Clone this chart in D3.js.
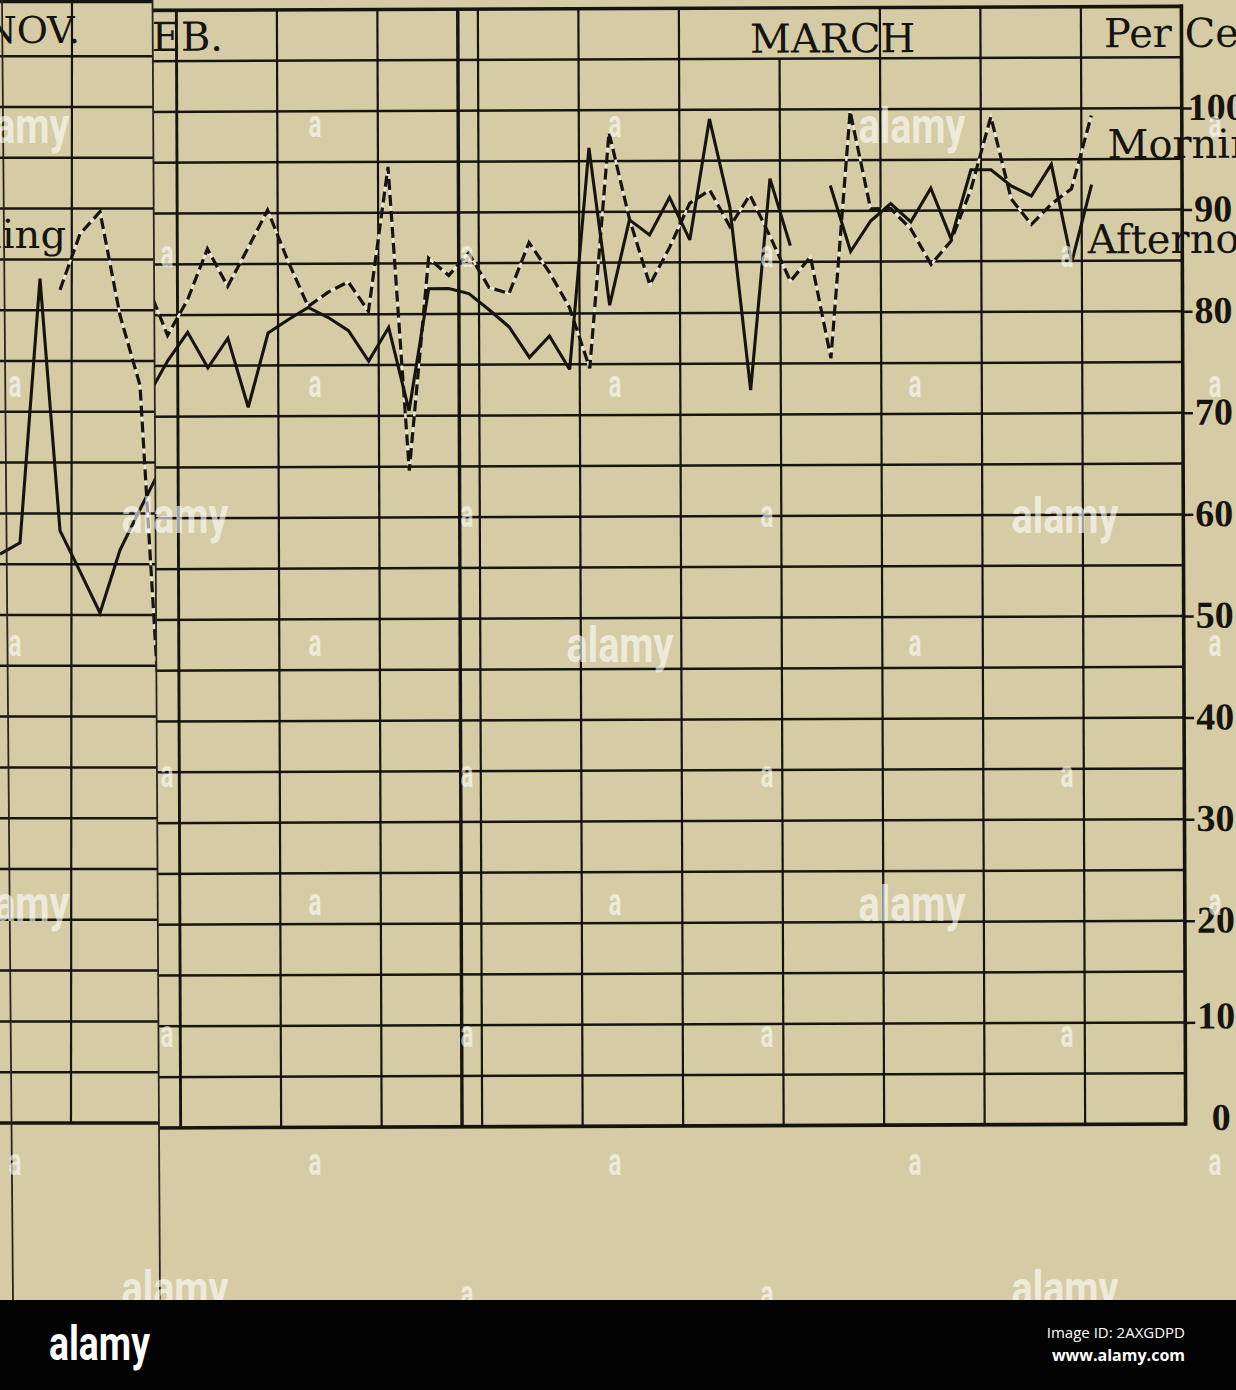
<!DOCTYPE html>
<html><head><meta charset="utf-8">
<script src="https://cdn.jsdelivr.net/npm/d3@7"></script>
<style>html,body{margin:0;padding:0;background:#d5cca6;}svg{display:block}</style>
</head><body>
<svg id="c" width="1236" height="1390"></svg>
<script>
// ---------- DATA ----------
const percentTicks = [0, 10, 20, 30, 40, 50, 60, 70, 80, 90, 100];
const gridValues = [0,5,10,15,20,25,30,35,40,45,50,55,60,65,70,75,80,85,90,95,100,105];
const gridDays = [15,20,25,30,35,40,45,50,55,60];
const monthStartDay = 29;           // heavy line: start of March
const headerLabels = {nov: "NOV.", feb: "FEB.", march: "MARCH", unit: "Per Cent."};
const seriesLabels = {morning: "Morning", afternoon: "Afternoon"};

// November strip (one reading per day)
const novIndex      = [0, 1, 2, 3, 4, 5, 6, 7, 8];
const novAfternoon  = [56, 57.1, 83.1, 58.3, 54.3, 50.2, 56.4, 60.4, 64.3];
const novMorning    = [null, null, null, 82.0, 87.5, 89.7, 79.5, 72.6, 39.7];

// February – March sheet (day index, Feb 15 = 15, Mar 1 = 29)
const febMarDay = [13,14,15,16,17,18,19,20,21,22,23,24,25,26,27,28,29,30,31,32,33,34,35,36,
                   37,38,39,40,41,42,43,44,45,46,47,48,49,50,51,52,53,54,55,56,57,58,59,60];
const afternoon = [72, 75.5, 78.3, 74.8, 77.7, 70.9, 78.2, 79.5, 80.7, 79.7, 78.4, 75.4, 78.7, 70.5,
                   82.5, 82.5, 82.0, 80.4, 78.7, 75.7, 77.8, 74.5, 96.3, 80.8, 89.2, 87.7, 91.4, 87.2,
                   99.1, 90.4, 72.4, 93.2, 86.6, null, 92.5, 86.0, 89.0, 90.7, 88.9, 92.2, 87.2, 94.0,
                   94.0, 92.4, 91.4, 94.5, 84.9, 92.5];
const morning   = [83, 78.0, 81.5, 86.5, 82.8, 86.5, 90.3, 85.3, 80.8, 82.2, 83.2, 80.3, 94.5, 64.6,
                   85.5, 83.8, 86.0, 82.6, 82.0, 87.0, 84.1, 80.6, 74.6, 97.8, 89.3, 82.8, 86.5, 90.8,
                   92.1, 88.5, 91.6, 87.5, 83.1, 85.5, 75.5, 99.8, 90.2, 90.2, 88.2, 84.7, 87.0, 92.1,
                   99.2, 91.1, 88.6, 90.6, 92.1, 99.3];

// ---------- DRAW ----------
const W = 1236, H = 1390;
const paper = '#d5cca6', ink = '#17140f';
const serif = '"DejaVu Serif", serif';
const svg = d3.select('#c');
svg.append('rect').attr('width', W).attr('height', H).attr('fill', paper);

const y = d3.scaleLinear().domain([0, 110]).range([1124, 6.4]);
const x = d3.scaleLinear().domain([15, 65]).range([178.5, 1183.5]);
const dayX = d => x(d + 0.5);
const gridW = 2.5, vW = 2.2;

// ---- Feb/March sheet ----
const right = svg.append('g').attr('transform', 'rotate(-0.22 1183 565)');

right.selectAll('line.h').data(gridValues).join('line')
  .attr('x1', 148).attr('x2', x(65)).attr('y1', d => y(d)).attr('y2', d => y(d))
  .attr('stroke', ink).attr('stroke-width', d => d === 0 ? 3.6 : gridW);
right.append('line').attr('x1', 148).attr('x2', x(65) + 1.8)
  .attr('y1', y(110)).attr('y2', y(110)).attr('stroke', ink).attr('stroke-width', 3.6);

right.selectAll('line.v').data(gridDays).join('line')
  .attr('x1', d => x(d)).attr('x2', d => x(d))
  .attr('y1', d => d === 45 ? y(105) : y(110)).attr('y2', y(0))
  .attr('stroke', ink).attr('stroke-width', d => d === 15 ? 2.9 : vW);
right.append('line').attr('x1', x(monthStartDay)).attr('x2', x(monthStartDay))
  .attr('y1', y(110)).attr('y2', y(0)).attr('stroke', ink).attr('stroke-width', 3.4);
right.append('line').attr('x1', x(65)).attr('x2', x(65))
  .attr('y1', y(110) - 1.8).attr('y2', y(0) + 1.8).attr('stroke', ink).attr('stroke-width', 3.6);

// axis on the right
const axis = d3.axisRight(y).tickValues(percentTicks).tickSize(10).tickPadding(2);
const ag = right.append('g').attr('transform', `translate(${x(65)},0)`).call(axis);
ag.select('.domain').remove();
ag.selectAll('.tick line').attr('stroke', ink).attr('stroke-width', gridW)
  .attr('opacity', d => d === 0 ? 0 : 1);
ag.selectAll('.tick text')
  .attr('font-family', '"Liberation Serif", serif').attr('font-weight', 'bold')
  .attr('font-size', 38).attr('fill', ink)
  .attr('x', d => d === 0 ? 26 : d === 100 ? 6 : 12)
  .attr('dy', d => d <= 10 ? '0.15em' : '0.3em');

// header texts
const txt = (g, s, xx, yy, anchor) => g.append('text').text(s).attr('x', xx).attr('y', yy)
  .attr('text-anchor', anchor || 'start').attr('font-family', serif).attr('font-size', 40).attr('fill', ink);
txt(right, headerLabels.feb, 126, 47);
txt(right, headerLabels.march, 752, 51);
txt(right, headerLabels.unit, 1106, 47);
txt(right, seriesLabels.morning, 1109, 158);
txt(right, seriesLabels.afternoon, 1089, 253);

const lineFM = d3.line().defined(d => d[1] != null).x(d => dayX(d[0])).y(d => y(d[1]));
const aftPts = febMarDay.map((d, i) => [d, afternoon[i]]);
const morPts = febMarDay.map((d, i) => [d, morning[i]]);
right.append('path').attr('d', lineFM(morPts)).attr('fill', 'none')
  .attr('stroke', '#ece7d2').attr('stroke-width', 2.4);
right.append('path').attr('d', lineFM(morPts)).attr('fill', 'none')
  .attr('stroke', ink).attr('stroke-width', 3.2).attr('stroke-dasharray', '11,5')
  .attr('stroke-linejoin', 'miter').attr('stroke-miterlimit', 3);
right.append('path').attr('d', lineFM(aftPts)).attr('fill', 'none')
  .attr('stroke', ink).attr('stroke-width', 3.1)
  .attr('stroke-linejoin', 'miter').attr('stroke-miterlimit', 3);

// ---- November strip ----
const stripPoly = [[0,0],[152.5,0],[160,1300],[0,1300]];
const defs = svg.append('defs');
defs.append('clipPath').attr('id', 'stripClip').append('polygon')
  .attr('points', stripPoly.map(p => p.join(',')).join(' '));
const strip = svg.append('g');
strip.append('polygon').attr('points', stripPoly.map(p => p.join(',')).join(' ')).attr('fill', paper);
const sIn = strip.append('g').attr('clip-path', 'url(#stripClip)');
sIn.selectAll('line.h').data(gridValues).join('line')
  .attr('x1', 0).attr('x2', 162).attr('y1', d => y(d) - 1).attr('y2', d => y(d) - 1)
  .attr('stroke', ink).attr('stroke-width', d => d === 0 ? 3.6 : gridW);
sIn.append('line').attr('x1', 0).attr('x2', 162).attr('y1', 1.5).attr('y2', 1.5)
  .attr('stroke', ink).attr('stroke-width', 3.6);
sIn.append('line').attr('x1', 72).attr('x2', 71).attr('y1', 1.5).attr('y2', y(0) - 1)
  .attr('stroke', ink).attr('stroke-width', vW);
sIn.append('text').text(headerLabels.nov).attr('x', 80).attr('y', 43).attr('text-anchor', 'end')
  .attr('font-family', serif).attr('font-size', 38).attr('fill', ink);
txt(sIn, seriesLabels.morning, 66, 248, 'end');

const xNov = d3.scaleLinear().domain([0, 8]).range([0, 160]);
const lineNov = d3.line().defined(d => d[1] != null).x(d => xNov(d[0])).y(d => y(d[1]) - 1);
const nAft = novIndex.map((d, i) => [d, novAfternoon[i]]);
const nMor = novIndex.map((d, i) => [d, novMorning[i]]);
sIn.append('path').attr('d', lineNov(nMor)).attr('fill', 'none')
  .attr('stroke', '#ece7d2').attr('stroke-width', 2.4);
sIn.append('path').attr('d', lineNov(nMor)).attr('fill', 'none')
  .attr('stroke', ink).attr('stroke-width', 3.2).attr('stroke-dasharray', '11,5');
sIn.append('path').attr('d', lineNov(nAft)).attr('fill', 'none')
  .attr('stroke', ink).attr('stroke-width', 3.1).attr('stroke-miterlimit', 3);

strip.append('line').attr('x1', 2).attr('y1', 0).attr('x2', 13).attr('y2', 1300)
  .attr('stroke', '#2a261c').attr('stroke-width', 1.8);
strip.append('line').attr('x1', 152.5).attr('y1', 0).attr('x2', 160).attr('y2', 1300)
  .attr('stroke', '#2a261c').attr('stroke-width', 1.8);

// ---- watermarks ----
const wm = svg.append('g').attr('fill', '#ffffff').attr('fill-opacity', 0.6)
  .attr('font-family', 'Roboto, sans-serif').attr('font-weight', 'bold');
const wmBig = [[16,143],[912,143],[620,662],[16,921],[912,921],[175,533],[1065,533],[175,1306],[1065,1306]];
const wmSmall = [];
[15,315,615,915,1215].forEach(cx => [127,387,646,905,1165].forEach(cy => wmSmall.push([cx, cy])));
[167,467,767,1067].forEach(cx => [257,517,777,1037,1297].forEach(cy => wmSmall.push([cx, cy])));
const smallShown = wmSmall.filter(s => !wmBig.some(b => Math.abs(s[0] - b[0]) < 60 && Math.abs(s[1] - (b[1] - 16)) < 30));
wm.selectAll('text.big').data(wmBig).join('text').text('alamy')
  .attr('x', d => d[0]).attr('y', d => d[1]).attr('text-anchor', 'middle')
  .attr('font-size', 50).attr('textLength', 107).attr('lengthAdjust', 'spacingAndGlyphs');
wm.selectAll('text.small').data(smallShown).join('text').text('a')
  .attr('x', d => d[0]).attr('y', d => d[1] + 10).attr('text-anchor', 'middle')
  .attr('font-size', 38).attr('textLength', 13).attr('lengthAdjust', 'spacingAndGlyphs');

// ---- bottom bar ----
svg.append('rect').attr('x', 0).attr('y', 1300).attr('width', W).attr('height', 90).attr('fill', '#030303');
svg.append('text').text('alamy').attr('x', 49).attr('y', 1360)
  .attr('font-family', 'Roboto, sans-serif').attr('font-weight', 'bold').attr('font-size', 49)
  .attr('textLength', 101).attr('lengthAdjust', 'spacingAndGlyphs').attr('fill', '#fff');
svg.append('text').text('Image ID: 2AXGDPD').attr('x', 1185).attr('y', 1338).attr('text-anchor', 'end')
  .attr('font-family', '"Open Sans", sans-serif').attr('font-size', 15).attr('fill', '#fff');
svg.append('text').text('www.alamy.com').attr('x', 1185).attr('y', 1361).attr('text-anchor', 'end')
  .attr('font-family', '"Open Sans", sans-serif').attr('font-weight', 'bold').attr('font-size', 16).attr('fill', '#fff');
</script>
</body></html>
